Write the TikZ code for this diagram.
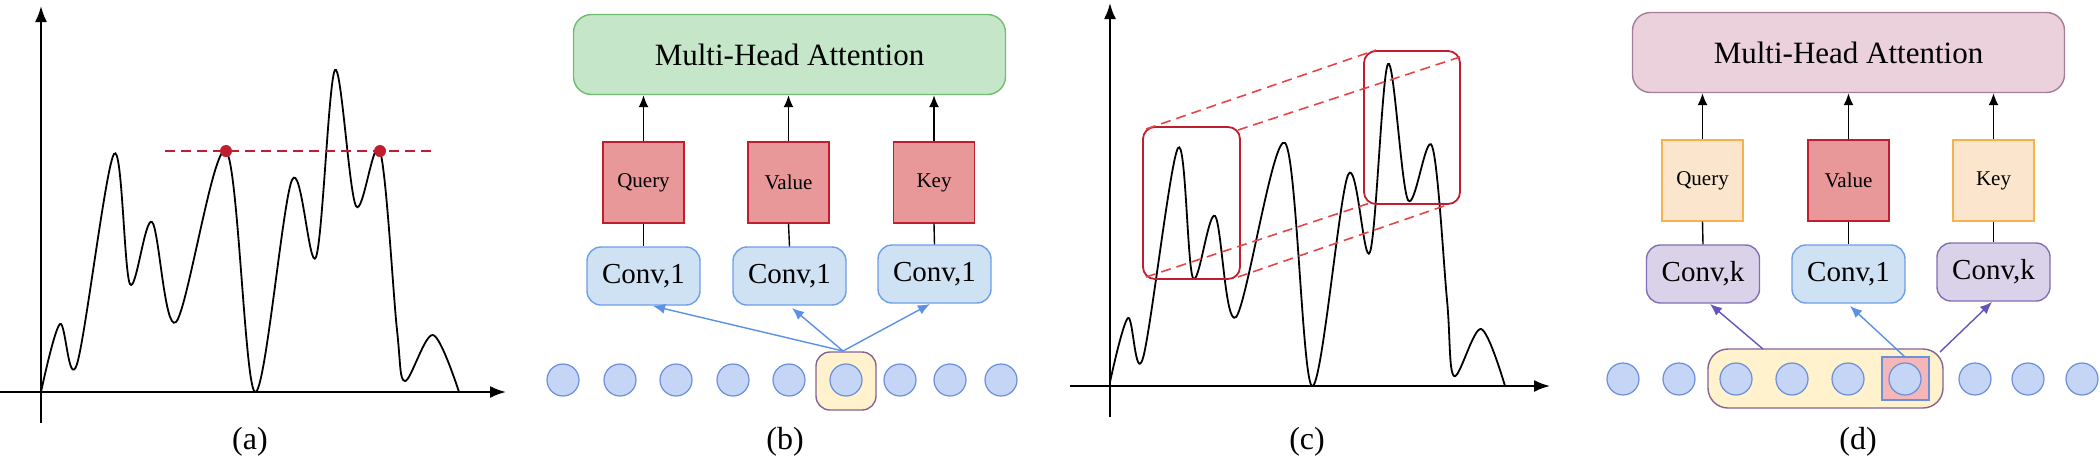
\documentclass[tikz,border=0pt]{standalone}
\usepackage{fontspec}
\setmainfont{Liberation Serif}
\usetikzlibrary{arrows.meta}
\definecolor{gfill}{RGB}{197,230,200}\definecolor{gdraw}{RGB}{110,190,110}
\definecolor{rfill}{RGB}{232,152,152}\definecolor{rdraw}{RGB}{190,30,45}
\definecolor{bfill}{RGB}{207,226,243}\definecolor{bdraw}{RGB}{109,158,235}
\definecolor{cfill}{RGB}{197,213,245}\definecolor{cdraw}{RGB}{108,142,219}
\definecolor{yfill}{RGB}{255,242,204}\definecolor{ydraw}{RGB}{130,100,150}
\definecolor{pfill}{RGB}{217,210,233}\definecolor{pdraw}{RGB}{130,110,180}
\definecolor{ofill}{RGB}{252,229,205}\definecolor{odraw}{RGB}{246,178,80}
\definecolor{kfill}{RGB}{244,182,182}
\definecolor{mfill}{RGB}{234,209,220}\definecolor{mdraw}{RGB}{166,124,154}
\definecolor{barrow}{RGB}{91,143,232}\definecolor{parrow}{RGB}{100,85,190}
\definecolor{dred}{RGB}{230,70,70}
\tikzset{
 mha/.style={draw=#1, rounded corners=9pt, minimum width=216pt, minimum height=40pt, font=\fontsize{15.5}{17}\selectfont, line width=0.7pt},
 sq/.style={draw=#1, minimum width=40.5pt, minimum height=40.5pt, font=\fontsize{10.5}{12}\selectfont, line width=0.7pt},
 conv/.style={draw=#1, rounded corners=7pt, minimum width=56.5pt, minimum height=29pt, font=\fontsize{14.5}{16}\selectfont, line width=0.7pt},
 dot/.style={circle, draw=cdraw, fill=cfill, minimum size=16pt, inner sep=0pt, line width=0.6pt},
 ax/.style={line width=1pt, -{Latex[length=8pt,width=6pt]}},
 curve/.style={line width=0.9pt, smooth, tension=0.55},
 capt/.style={font=\fontsize{16}{18}\selectfont},
 up/.style={line width=0.7pt, -{Latex[length=6pt,width=5pt]}},
 ln/.style={line width=0.7pt},
 blar/.style={draw=barrow, line width=0.7pt, -{Latex[length=6pt,width=5pt]}},
 pular/.style={draw=parrow, line width=0.7pt, -{Latex[length=6pt,width=5pt]}},
 redbox/.style={draw=rdraw, line width=0.9pt, rounded corners=6pt},
 rdash/.style={draw=dred, line width=0.8pt, dash pattern=on 5pt off 3pt}
}
\begin{document}
\begin{tikzpicture}[x=0.5pt,y=-0.5pt]
\useasboundingbox (0,0) rectangle (2100,467);
% (a)
\coordinate (ay0) at (41,423); \coordinate (ay1) at (41,6);
\coordinate (ax0) at (0,392); \coordinate (ax1) at (506,392);
\draw[ax] (ay0) -- (ay1);
\draw[ax] (ax0) -- (ax1);
\draw[curve] plot coordinates {(41,392) (60,324) (77,364) (114,154) (130,284) (152,222) (176,322) (226,151) (255,392) (292,180) (316,257) (335,70) (356,206) (380,151) (397,330) (405,381) (433,335) (459,392)};
\coordinate (ad0) at (165,151); \coordinate (ad1) at (433,151);
\draw[rdash, draw=rdraw] (ad0) -- (ad1);
\fill[rdraw] (226,151) circle (3pt) (380,151) circle (3pt);
\node[capt] (la) at (250,442) {(a)};
% (c)
\coordinate (cy0) at (1110,417); \coordinate (cy1) at (1110,3);
\coordinate (cx0) at (1070,386); \coordinate (cx1) at (1550,386);
\draw[ax] (cy0) -- (cy1);
\draw[ax] (cx0) -- (cx1);
\draw[curve] plot coordinates {(1110,382) (1128,318) (1143,358) (1178,148) (1193,278) (1215,216) (1236,317) (1285,143) (1312,386) (1348,175) (1370,252) (1388,64) (1408,200) (1432,146) (1447,300) (1454,376) (1481,329) (1505,386)};
\draw[redbox] (1143,127) rectangle (1240,279);
\draw[redbox] (1364,51) rectangle (1460,204);
\coordinate (c1) at (1146,129); \coordinate (c2) at (1376,50);
\coordinate (c3) at (1238,130); \coordinate (c4) at (1460,57);
\coordinate (c5) at (1146,277); \coordinate (c6) at (1370,203);
\coordinate (c7) at (1238,277); \coordinate (c8) at (1447,205);
\draw[rdash] (c1) -- (c2); \draw[rdash] (c3) -- (c4);
\draw[rdash] (c5) -- (c6); \draw[rdash] (c7) -- (c8);
\node[capt] (lc) at (1307,442) {(c)};
% (b)
\node[mha=gdraw, fill=gfill] (bm) at (789.5,54.5) {Multi-Head Attention};
\node[sq=rdraw, fill=rfill] (bq) at (643.5,182.5) {Query};
\node[sq=rdraw, fill=rfill] (bv) at (788.5,182.5) {Value};
\node[sq=rdraw, fill=rfill] (bk) at (934,182.5) {Key};
\node[conv=bdraw, fill=bfill] (bc1) at (643.5,276) {Conv,1};
\node[conv=bdraw, fill=bfill] (bc2) at (789.5,276) {Conv,1};
\node[conv=bdraw, fill=bfill] (bc3) at (934.5,274) {Conv,1};
\foreach \a/\b in {bq/bc1,bv/bc2,bk/bc3} {\draw[ln] (\a.south) -- (\b.north); \draw[up] (\a.north) -- (\a.north|-bm.south);}
\draw[draw=ydraw, fill=yfill, rounded corners=7pt, line width=0.7pt] (816,352) rectangle (876,410);
\foreach \i/\x in {1/563,2/620,3/676,4/733,5/789,6/846,7/900,8/950,9/1001} \node[dot] (bd\i) at (\x,380) {};
\coordinate (bs) at (843,351);
\draw[blar] (bs) -- (653,306);
\draw[blar] (bs) -- (792,308);
\draw[blar] (bs) -- (930,304);
\node[capt] (lb) at (785,442) {(b)};
% (d)
\node[mha=mdraw, fill=mfill] (dm) at (1848.5,52.5) {Multi-Head Attention};
\node[sq=odraw, fill=ofill] (dq) at (1702.5,180.5) {Query};
\node[sq=rdraw, fill=rfill] (dv) at (1848.5,180.5) {Value};
\node[sq=odraw, fill=ofill] (dk) at (1993.5,180.5) {Key};
\node[conv=pdraw, fill=pfill] (dc1) at (1703,274) {Conv,k};
\node[conv=bdraw, fill=bfill] (dc2) at (1848.5,274) {Conv,1};
\node[conv=pdraw, fill=pfill] (dc3) at (1993.5,272) {Conv,k};
\foreach \a/\b in {dq/dc1,dv/dc2,dk/dc3} {\draw[ln] (\a.south) -- (\b.north); \draw[up] (\a.north) -- (\a.north|-dm.south);}
\draw[draw=ydraw, fill=yfill, rounded corners=10pt, line width=0.7pt] (1708,349) rectangle (1943,408);
\draw[draw=cdraw, fill=kfill, line width=0.7pt] (1882,357) rectangle (1929,400);
\foreach \i/\x in {1/1623,2/1679,3/1736,4/1792,5/1848,6/1905,7/1975,8/2028,9/2082} \node[dot] (dd\i) at (\x,379) {};
\coordinate (ds1) at (1763,349); \coordinate (ds2) at (1905,357); \coordinate (ds3) at (1940,352);
\draw[pular] (ds1) -- (1710,304);
\draw[blar] (ds2) -- (1850,306);
\draw[pular] (ds3) -- (1992,302);
\node[capt] (ld) at (1858,442) {(d)};
\end{tikzpicture}
\end{document}
